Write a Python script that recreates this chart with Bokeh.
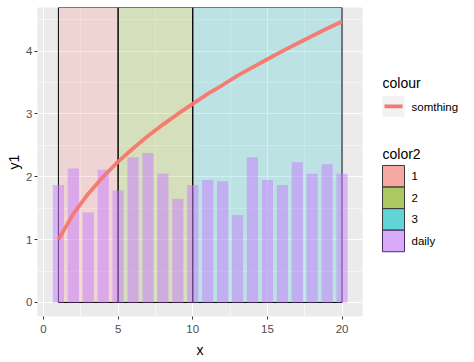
from bokeh.plotting import figure
from bokeh.layouts import row
from bokeh.models import Range1d, FixedTicker, ColumnDataSource
from bokeh.core.properties import value
from bokeh.embed import file_html
from bokeh.resources import INLINE

# ---- data ----
x_vals = list(range(1, 21))
daily = [1.87, 2.13, 1.43, 2.11, 1.78, 2.31, 2.38, 2.05, 1.65, 1.87,
         1.95, 1.93, 1.39, 2.31, 1.95, 1.87, 2.23, 2.05, 2.20, 2.05]
somthing = [1.00, 1.41, 1.73, 2.00, 2.24, 2.45, 2.65, 2.83, 3.00, 3.16,
            3.32, 3.46, 3.61, 3.74, 3.87, 4.00, 4.12, 4.24, 4.36, 4.47]
rect_group = ["1", "2", "3"]
rect_xmin = [1, 5, 10]
rect_xmax = [5, 10, 20]
x_ticks = [0, 5, 10, 15, 20]
x_minor = [2.5, 7.5, 12.5, 17.5]
y_ticks = [0, 1, 2, 3, 4]
y_minor = [0.5, 1.5, 2.5, 3.5, 4.5]
legend_groups = ["1", "2", "3", "daily"]

# ---- styles ----
FONT = "Liberation Sans"
rect_colors = ["#F8766D", "#7CAE00", "#00BFC4"]
bar_color = "#C77CFF"
line_color = "#F8766D"
X_START, X_END = -0.40, 21.37
Y_START, Y_END = -0.2235, 4.6935
H = 360
W_MAIN = 366
W_LEG = 472 - W_MAIN
FRAME_TOP, FRAME_BOTTOM = 7, 318

p = figure(width=W_MAIN, height=H, output_backend="svg", toolbar_location=None,
           x_range=Range1d(X_START, X_END), y_range=Range1d(Y_START, Y_END),
           min_border_left=37, min_border_right=W_MAIN - 362,
           min_border_top=FRAME_TOP, min_border_bottom=H - FRAME_BOTTOM)
p.background_fill_color = "#EBEBEB"
p.border_fill_color = "white"
p.outline_line_color = None

p.xaxis.ticker = FixedTicker(ticks=x_ticks, minor_ticks=x_minor)
p.yaxis.ticker = FixedTicker(ticks=y_ticks, minor_ticks=y_minor)
for g in (p.xgrid, p.ygrid):
    g.grid_line_color = "white"
    g.grid_line_width = 1.1
    g.minor_grid_line_color = "white"
    g.minor_grid_line_width = 0.55
for ax in (p.xaxis, p.yaxis):
    ax.axis_line_color = None
    ax.major_tick_out = 3
    ax.major_tick_in = 0
    ax.minor_tick_out = 0
    ax.minor_tick_in = 0
    ax.major_tick_line_color = "#333333"
    ax.major_label_text_font = FONT
    ax.major_label_text_font_size = "11.5px"
    ax.major_label_text_color = "#4D4D4D"
    ax.axis_label_text_font = FONT
    ax.axis_label_text_font_size = "14px"
    ax.axis_label_text_font_style = "normal"
    ax.axis_label_text_color = "black"
p.xaxis.axis_label = "x"
p.yaxis.axis_label = "y1"
p.yaxis.major_label_standoff = 2
p.yaxis.axis_label_standoff = 1
p.xaxis.major_label_standoff = 5
p.xaxis.axis_label_standoff = 6

rsrc = ColumnDataSource(dict(left=rect_xmin, right=rect_xmax,
                             bottom=[0] * len(rect_xmin), top=[Y_END] * len(rect_xmin),
                             color=rect_colors, group=rect_group))
p.quad(left="left", right="right", bottom="bottom", top="top", source=rsrc,
       fill_color="color", fill_alpha=0.2, line_color="black", line_width=1)

p.vbar(x=x_vals, top=daily, bottom=0, width=0.75,
       fill_color=bar_color, fill_alpha=0.5, line_color=None)

p.line(x=x_vals, y=somthing, line_color=line_color, line_width=3.8, line_alpha=0.95)

# ---- legend panel (coordinates in page pixels; frame aligned with main frame) ----
lg = figure(width=W_LEG, height=H, output_backend="svg", toolbar_location=None,
            x_range=Range1d(0, W_LEG), y_range=Range1d(FRAME_BOTTOM, FRAME_TOP),
            min_border_left=0, min_border_right=0,
            min_border_top=FRAME_TOP, min_border_bottom=H - FRAME_BOTTOM)
lg.axis.visible = False
lg.grid.visible = False
lg.outline_line_color = None
lg.background_fill_color = "white"
lg.border_fill_color = "white"

KX0, KX1 = 16, 38
LX = 45
# colour legend
lg.text(x=[KX0], y=[83], text=["colour"], text_font=value(FONT), text_font_size="14px",
        text_baseline="middle", text_align="left", text_color="black")
lg.quad(left=[KX0], right=[KX1], top=[96], bottom=[117], fill_color="#F2F2F2", line_color=None)
lg.line(x=[KX0 + 2, KX1 - 2], y=[106.5, 106.5], line_color=line_color, line_width=3.8)
lg.text(x=[LX], y=[107], text=["somthing"], text_font=value(FONT), text_font_size="11.5px",
        text_baseline="middle", text_align="left", text_color="black")

# color2 legend
lg.text(x=[KX0], y=[154], text=["color2"], text_font=value(FONT), text_font_size="14px",
        text_baseline="middle", text_align="left", text_color="black")
KH = 21.7
tops = [166 + i * KH for i in range(len(legend_groups))]
bots = [t + KH for t in tops]
key_fill = rect_colors + [bar_color]
key_line = ["#3a3a3a", "#3a3a3a", "#3a3a3a", "#4B2D63"]
lg.quad(left=[KX0] * 4, right=[KX1] * 4, top=tops, bottom=bots,
        fill_color="#F2F2F2", line_color=None)
lg.quad(left=[KX0] * 4, right=[KX1] * 4, top=tops, bottom=bots,
        fill_color=key_fill, fill_alpha=0.6, line_color=key_line, line_width=1)
lg.text(x=[LX] * 4, y=[t + KH / 2 for t in tops], text=legend_groups,
        text_font=value(FONT), text_font_size="11.5px",
        text_baseline="middle", text_align="left", text_color="black")

layout = row(p, lg)
open("out.html", "w").write(file_html(layout, INLINE))
